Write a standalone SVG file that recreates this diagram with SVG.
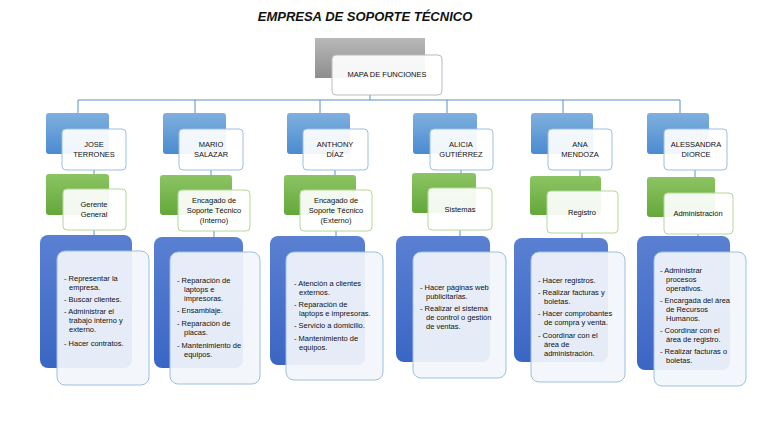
<svg xmlns="http://www.w3.org/2000/svg" width="768" height="433" viewBox="0 0 768 433">
<defs>
<linearGradient id="gb" x1="0" y1="0" x2="0" y2="1"><stop offset="0" stop-color="#7fb0de"/><stop offset="1" stop-color="#4a8bd0"/></linearGradient>
<linearGradient id="gg" x1="0" y1="0" x2="0" y2="1"><stop offset="0" stop-color="#8cc463"/><stop offset="1" stop-color="#63a83a"/></linearGradient>
<linearGradient id="gd" x1="0" y1="0" x2="0" y2="1"><stop offset="0" stop-color="#5a80d2"/><stop offset="1" stop-color="#3a66c4"/></linearGradient>
<linearGradient id="gt" x1="0" y1="0" x2="0" y2="1"><stop offset="0" stop-color="#b8b8b8"/><stop offset="1" stop-color="#8e8e8e"/></linearGradient>
</defs>
<style>
.b{fill:url(#gb)}.g{fill:url(#gg)}.d{fill:url(#gd)}
.w{fill:#fff;fill-opacity:.92;stroke:#9dbfe2;stroke-width:1}
.wg{fill:#fff;fill-opacity:.92;stroke:#b5d89a;stroke-width:1}
.wl{fill:#f2f5fb;fill-opacity:.93;stroke:#9dbfe2;stroke-width:1}
text{font-family:"Liberation Sans",Arial,sans-serif;font-size:7.5px;fill:#111}
.c{text-anchor:middle}
.l{stroke:#5b8fc8;stroke-width:1;fill:none}
</style>
<text x="365" y="21" class="c" style="font-size:13px;font-style:italic;font-weight:bold">EMPRESA DE SOPORTE TÉCNICO</text>
<g id="connectors">
<path class="l" d="M370 95V100M78 100H680M78 100V113M195 100V113M320 100V113M447 100V113M563 100V113M680 100V113"/>
<path class="l" d="M94 170V174M211 170V175M335 170V175M461 170V173M580 170V176M695 170V177"/>
<path class="l" d="M94 230V235M214 231V237M336 231V236M460 230V236M582 233V238M698 234V236"/>
</g>
<g id="root">
<rect x="315" y="38" width="110" height="40" class="b" style="fill:url(#gt)"/>
<rect x="332" y="55" width="110" height="40" rx="4" class="w" style="stroke:#bbb"/>
<text x="387" y="77" class="c">MAPA DE FUNCIONES</text>
</g>
<g id="col1">
<rect x="46" y="113" width="63" height="41" rx="3" class="b"/>
<rect x="62" y="129" width="64" height="41" rx="4" class="w"/>
<text x="94" y="147" class="c">JOSE</text><text x="94" y="157" class="c">TERRONES</text>
<rect x="46" y="174" width="63" height="41" rx="3" class="g"/>
<rect x="63" y="189" width="63" height="41" rx="4" class="wg"/>
<text x="94" y="207" class="c">Gerente</text><text x="94" y="217" class="c">General</text>
<rect x="40" y="235" width="92" height="133" rx="8" class="d"/>
<rect x="57" y="251" width="92" height="134" rx="8" class="wl"/>
<text x="64" y="281">- Representar la</text><text x="69" y="290">empresa.</text>
<text x="64" y="302">- Buscar clientes.</text>
<text x="64" y="314">- Administrar el</text><text x="69" y="323">trabajo interno y</text><text x="69" y="332">externo.</text>
<text x="64" y="346">- Hacer contratos.</text>
</g>
<g id="col2">
<rect x="163" y="113" width="63" height="41" rx="3" class="b"/>
<rect x="179" y="129" width="64" height="41" rx="4" class="w"/>
<text x="211" y="147" class="c">MARIO</text><text x="211" y="157" class="c">SALAZAR</text>
<rect x="160" y="175" width="72" height="40" rx="3" class="g"/>
<rect x="178" y="190" width="72" height="41" rx="4" class="wg"/>
<text x="214" y="203" class="c">Encagado de</text><text x="214" y="213" class="c">Soporte Técnico</text><text x="214" y="223" class="c">(Interno)</text>
<rect x="154" y="237" width="89" height="131" rx="8" class="d"/>
<rect x="170" y="252" width="90" height="132" rx="8" class="wl"/>
<text x="177" y="283">- Reparación de</text><text x="184" y="292">laptops e</text><text x="184" y="301">impresoras.</text>
<text x="177" y="313">- Ensamblaje.</text>
<text x="177" y="326">- Reparación de</text><text x="184" y="335">placas.</text>
<text x="177" y="348">- Mantenimiento de</text><text x="184" y="357">equipos.</text>
</g>
<g id="col3">
<rect x="287" y="113" width="63" height="41" rx="3" class="b"/>
<rect x="303" y="129" width="65" height="41" rx="4" class="w"/>
<text x="335" y="147" class="c">ANTHONY</text><text x="335" y="157" class="c">DÍAZ</text>
<rect x="284" y="175" width="72" height="40" rx="3" class="g"/>
<rect x="300" y="190" width="72" height="41" rx="4" class="wg"/>
<text x="336" y="203" class="c">Encagado de</text><text x="336" y="213" class="c">Soporte Técnico</text><text x="336" y="223" class="c">(Externo)</text>
<rect x="270" y="236" width="95" height="129" rx="8" class="d"/>
<rect x="286" y="252" width="97" height="128" rx="8" class="wl"/>
<text x="294" y="286">- Atención a clientes</text><text x="299" y="295">externos.</text>
<text x="294" y="307">-  Reparación de</text><text x="299" y="316">laptops e impresoras.</text>
<text x="294" y="328">- Servicio a domicilio.</text>
<text x="294" y="341">- Mantenimiento de</text><text x="299" y="350">equipos.</text>
</g>
<g id="col4">
<rect x="413" y="113" width="64" height="41" rx="3" class="b"/>
<rect x="430" y="129" width="63" height="41" rx="4" class="w"/>
<text x="461" y="147" class="c">ALICIA</text><text x="461" y="157" class="c">GUTIÉRREZ</text>
<rect x="412" y="173" width="64" height="40" rx="3" class="g"/>
<rect x="428" y="188" width="64" height="42" rx="4" class="wg"/>
<text x="460" y="212" class="c">Sistemas</text>
<rect x="396" y="236" width="94" height="126" rx="8" class="d"/>
<rect x="413" y="252" width="93" height="126" rx="8" class="wl"/>
<text x="420" y="290">- Hacer páginas web</text><text x="426" y="299">publicitarias.</text>
<text x="420" y="311">- Realizar el sistema</text><text x="426" y="320">de control o gestión</text><text x="426" y="329">de ventas.</text>
</g>
<g id="col5">
<rect x="531" y="113" width="62" height="41" rx="3" class="b"/>
<rect x="548" y="129" width="64" height="41" rx="4" class="w"/>
<text x="580" y="147" class="c">ANA</text><text x="580" y="157" class="c">MENDOZA</text>
<rect x="530" y="176" width="71" height="39" rx="3" class="g"/>
<rect x="547" y="191" width="71" height="42" rx="4" class="wg"/>
<text x="582" y="215" class="c">Registro</text>
<rect x="514" y="238" width="94" height="124" rx="8" class="d"/>
<rect x="531" y="252" width="94" height="130" rx="8" class="wl"/>
<text x="538" y="283">- Hacer registros.</text>
<text x="538" y="295">- Realizar facturas y</text><text x="544" y="304">boletas.</text>
<text x="538" y="316">- Hacer comprobantes</text><text x="544" y="325">de compra y venta.</text>
<text x="538" y="338">- Coordinar con el</text><text x="544" y="347">área de</text><text x="544" y="356">administración.</text>
</g>
<g id="col6">
<rect x="647" y="113" width="62" height="41" rx="3" class="b"/>
<rect x="664" y="129" width="63" height="41" rx="4" class="w"/>
<text x="696" y="147" class="c">ALESSANDRA</text><text x="696" y="157" class="c">DIORCE</text>
<rect x="647" y="177" width="68" height="40" rx="3" class="g"/>
<rect x="664" y="193" width="69" height="41" rx="4" class="wg"/>
<text x="698" y="216" class="c">Administración</text>
<rect x="637" y="236" width="93" height="134" rx="8" class="d"/>
<rect x="654" y="252" width="92" height="134" rx="8" class="wl"/>
<text x="660" y="273">- Administrar</text><text x="666" y="282">procesos</text><text x="666" y="291">operativos.</text>
<text x="660" y="303">- Encargada del área</text><text x="666" y="312">de Recursos</text><text x="666" y="321">Humanos.</text>
<text x="660" y="333">- Coordinar con el</text><text x="666" y="342">área de registro.</text>
<text x="660" y="354">- Realizar facturas o</text><text x="666" y="363">boletas.</text>
</g>
</svg>
